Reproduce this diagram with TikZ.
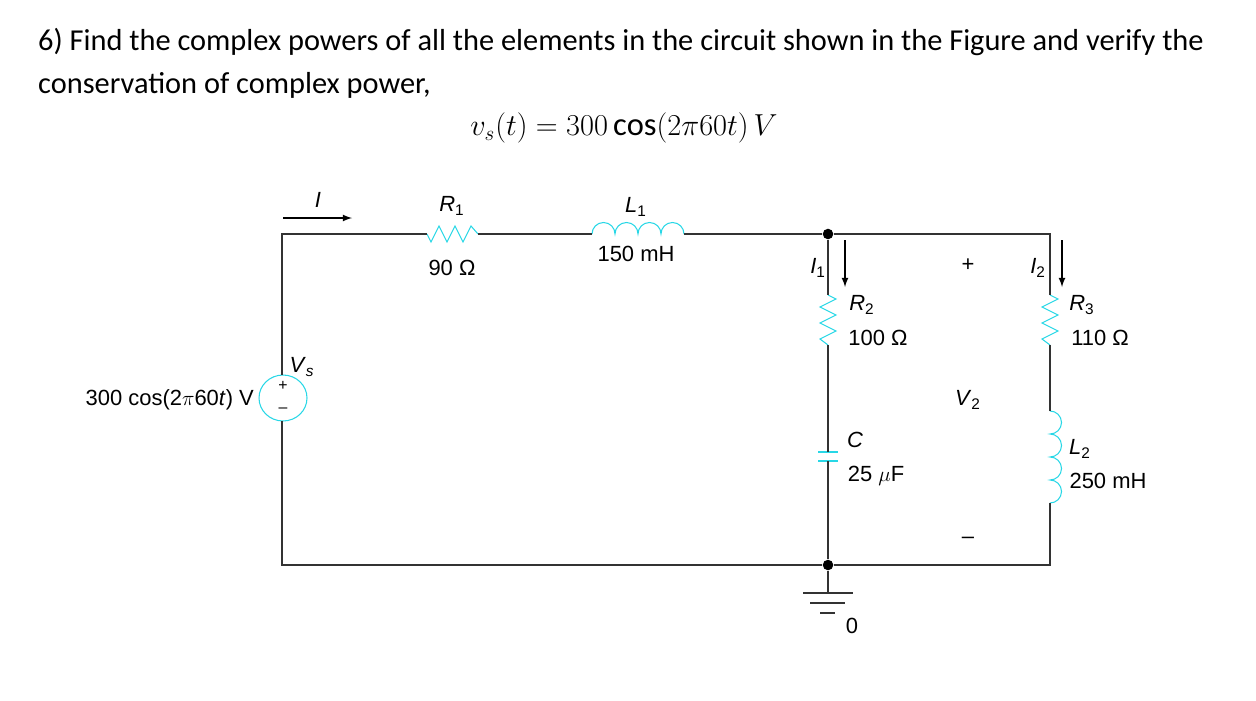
\documentclass[tikz,border=0pt]{standalone}
\usepackage{fontspec}
\setmainfont{Carlito}
\newfontfamily\arialfont{Liberation Sans}
\usepackage{amsmath}
\usepackage{xcolor}
\usetikzlibrary{arrows}
\usetikzlibrary{positioning}
\definecolor{partcyan}{RGB}{40,215,230}
\begin{document}
\begin{tikzpicture}
        [x=0.02cm,y=0.02cm,
        wire/.style={draw=black!80,semithick},
        part/.style={draw=partcyan,semithick},
        lbl/.style={font=\arialfont\fontsize{12.5}{14}\selectfont,inner sep=1pt},
        from/.style={-latex,thick},
        dot/.style={circle,fill=black,inner sep=0pt,minimum size=6pt}]

\useasboundingbox (0,0) rectangle (1256,-700);

% question text
\node[anchor=west,font=\fontsize{17.3}{20}\selectfont] (q1) at (32,-42) {6) Find the complex powers of all the elements in the circuit shown in the Figure and verify the};
\node[anchor=west,font=\fontsize{17.3}{20}\selectfont] (q2) at (32,-85) {conservation of complex power,};
\node[font=\fontsize{18.5}{22}\selectfont] (eq) at (624,-128) {$v_s(t) = 300\cos(2\pi 60t)\,V$};

% corners and junctions
\coordinate (tl) at (282,-234);
\coordinate (bl) at (282,-565);
\node[dot] (jt) at (828,-234) {};
\node[dot] (jb) at (828,-565) {};
\coordinate (tr) at (1050,-234);
\coordinate (br) at (1050,-565);

% source
\draw[part] (283,-398) ellipse (0.48cm and 0.46cm);
\coordinate (src_t) at (282,-375);
\coordinate (src_b) at (282,-421);
\node[lbl,font=\arialfont\fontsize{9}{10}\selectfont] (plus_s) at (283,-386) {+};
\node[lbl,font=\arialfont\fontsize{9}{10}\selectfont] (minus_s) at (283,-410) {–};
\node[lbl,anchor=east] (vsrc) at (256,-400) {300 cos(2\(\pi\)60\textit{t}) V};
\node[lbl] (vs) at (302,-367) {\textit{V}\textsubscript{\textit{s}}};

% R1 and L1
\coordinate (r1a) at (427,-234);
\coordinate (r1b) at (478,-234);
\draw[part] (r1a) -- ++(4,-8) -- ++(8,16) -- ++(8,-16) -- ++(8,16) -- ++(8,-16) -- ++(8,16) -- (r1b);
\node[lbl] (r1) at (452,-206) {\textit{R}\textsubscript{1}};
\node[lbl] (r1v) at (452,-268) {90 Ω};
\coordinate (l1a) at (592,-234);
\coordinate (l1b) at (684,-234);
\draw[part] (l1a) arc (180:0:0.23cm) arc (180:0:0.23cm) arc (180:0:0.23cm) arc (180:0:0.23cm);
\node[lbl] (l1) at (636,-207) {\textit{L}\textsubscript{1}};
\node[lbl] (l1v) at (636,-254) {150 mH};

% middle branch
\coordinate (r2a) at (828,-295);
\coordinate (r2b) at (828,-345);
\draw[part] (r2a) -- ++(8,-4) -- ++(-16,-8) -- ++(16,-8) -- ++(-16,-8) -- ++(16,-8) -- ++(-16,-8) -- (r2b);
\coordinate (ca) at (828,-452);
\coordinate (cb) at (828,-461);
\draw[part] (818,-452) -- (838,-452) (818,-461) -- (838,-461);
\node[lbl] (r2) at (862,-305) {\textit{R}\textsubscript{2}};
\node[lbl] (r2v) at (878,-338) {100 Ω};
\node[lbl] (c) at (855,-440) {\textit{C}};
\node[lbl] (cv) at (876,-476) {25 \(\mu\)F};

% right branch
\coordinate (r3a) at (1050,-295);
\coordinate (r3b) at (1050,-345);
\draw[part] (r3a) -- ++(8,-4) -- ++(-16,-8) -- ++(16,-8) -- ++(-16,-8) -- ++(16,-8) -- ++(-16,-8) -- (r3b);
\coordinate (l2a) at (1050,-411);
\coordinate (l2b) at (1050,-503);
\draw[part] (l2a) arc (90:-90:0.23cm) arc (90:-90:0.23cm) arc (90:-90:0.23cm) arc (90:-90:0.23cm);
\node[lbl] (r3) at (1082,-305) {\textit{R}\textsubscript{3}};
\node[lbl] (r3v) at (1100,-338) {110 Ω};
\node[lbl] (l2) at (1080,-449) {\textit{L}\textsubscript{2}};
\node[lbl] (l2v) at (1108,-481) {250 mH};

% wires
\draw[wire] (src_t) -- (tl) -- (r1a);
\draw[wire] (r1b) -- (l1a);
\draw[wire] (l1b) -- (jt) -- (tr) -- (r3a);
\draw[wire] (src_b) -- (bl) -- (jb) -- (br) -- (l2b);
\draw[wire] (r3b) -- (l2a);
\draw[wire] (jt) -- (r2a);
\draw[wire] (r2b) -- (ca);
\draw[wire] (cb) -- (jb);

% ground
\coordinate (gnd) at (828,-593);
\draw[wire] (jb) -- (gnd);
\draw[wire] (803,-593) -- (853,-593) (810,-603) -- (845,-603) (820,-613) -- (835,-613);
\node[lbl] (zero) at (852,-626) {0};

% currents and voltage
\coordinate (ia) at (283,-218);
\coordinate (ib) at (352,-218);
\draw[from] (ia) -- (ib);
\node[lbl] (i) at (318,-200) {\textit{I}};
\coordinate (i1a) at (845,-240);
\coordinate (i1b) at (845,-287);
\draw[from] (i1a) -- (i1b);
\node[lbl] (i1) at (818,-268) {\textit{I}\textsubscript{1}};
\coordinate (i2a) at (1062,-240);
\coordinate (i2b) at (1062,-287);
\draw[from] (i2a) -- (i2b);
\node[lbl] (i2) at (1038,-268) {\textit{I}\textsubscript{2}};
\node[lbl] (vp) at (968,-265) {+};
\node[lbl] (v2) at (968,-400) {\textit{V}\textsubscript{2}};
\node[lbl] (vm) at (968,-540) {–};

\end{tikzpicture}
\end{document}
